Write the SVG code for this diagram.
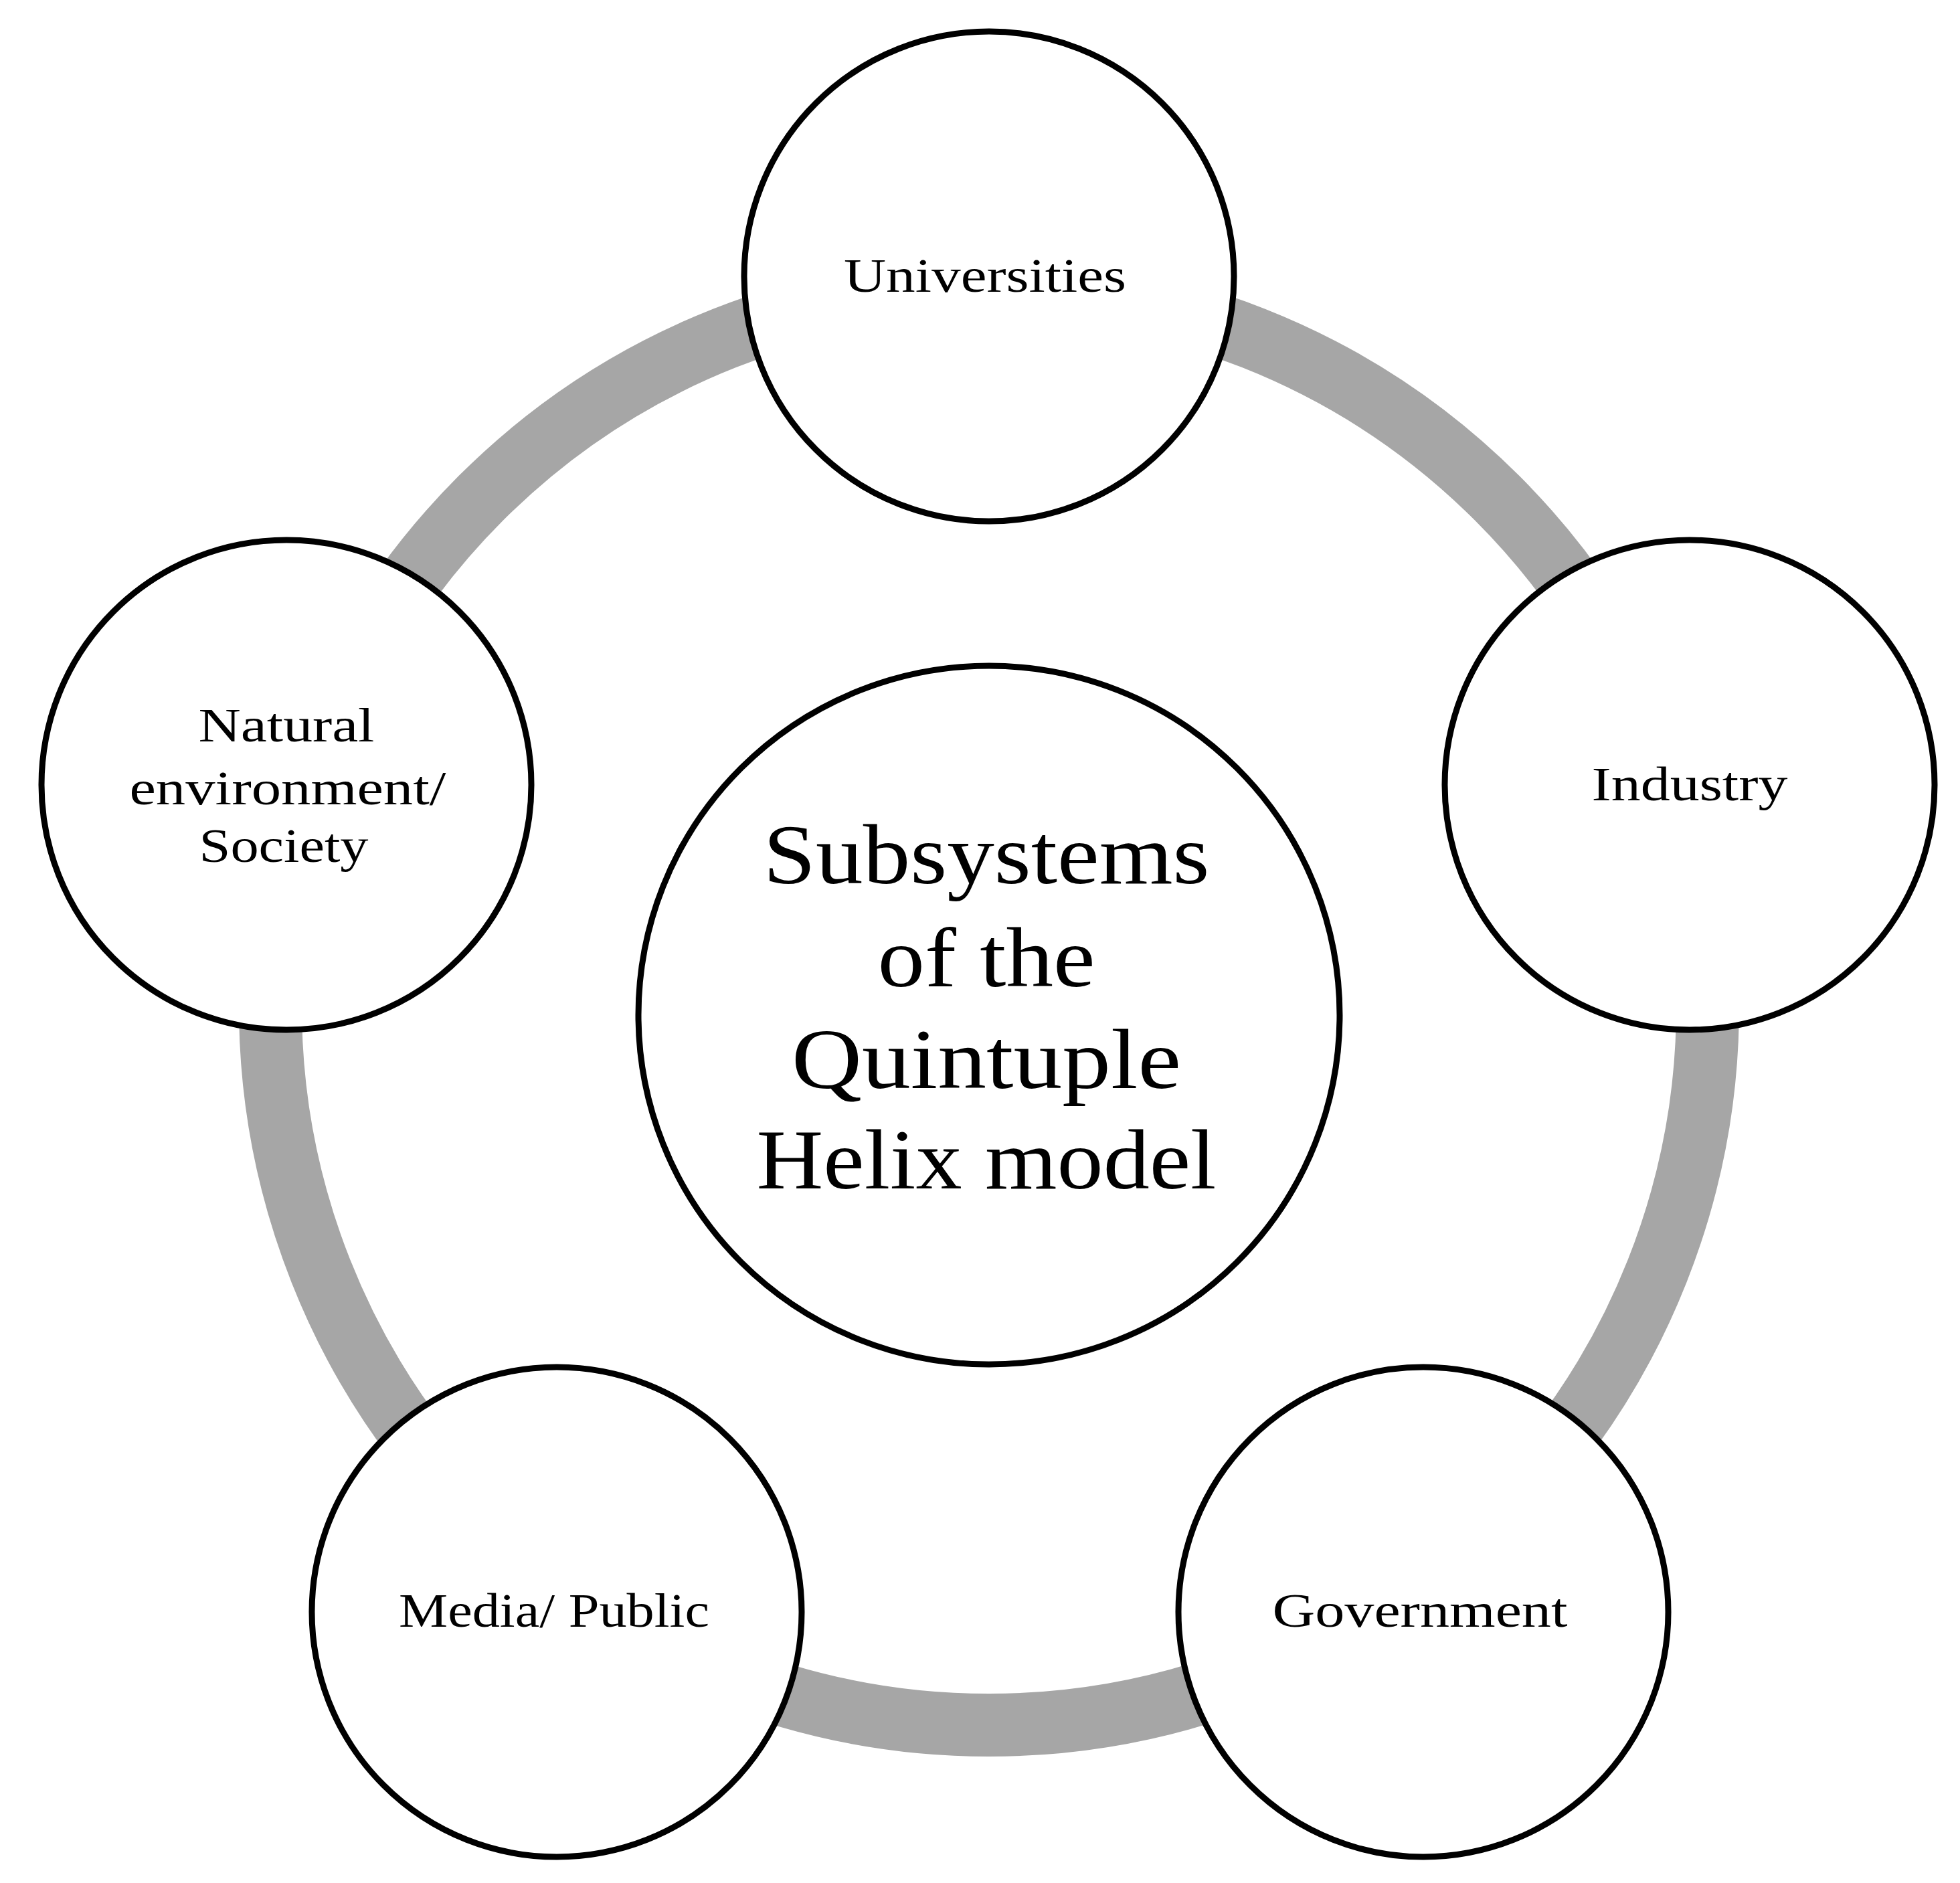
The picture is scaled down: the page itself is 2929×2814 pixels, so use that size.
<svg xmlns="http://www.w3.org/2000/svg" width="2929" height="2814" viewBox="0 0 2929 2814">
<style>
.n{fill:#fff;stroke:#000;stroke-width:9}
.t{font-family:"Liberation Serif",serif;font-size:72px;text-anchor:middle;fill:#000}
.c{font-family:"Liberation Serif",serif;font-size:128px;text-anchor:middle;fill:#000}
</style>
<rect width="2929" height="2814" fill="#fff"/>
<g id="connectors"><circle cx="1478" cy="1504" r="1074" fill="none" stroke="#a6a6a6" stroke-width="94"/></g>
<g id="center"><ellipse class="n" cx="1478" cy="1517" rx="524" ry="522"/>
<text class="c" x="1474" y="1320" textLength="667" lengthAdjust="spacingAndGlyphs">Subsystems</text><text class="c" x="1474" y="1474" textLength="325" lengthAdjust="spacingAndGlyphs">of the</text><text class="c" x="1474" y="1626" textLength="582" lengthAdjust="spacingAndGlyphs">Quintuple</text><text class="c" x="1474" y="1776" textLength="687" lengthAdjust="spacingAndGlyphs">Helix model</text></g>
<g id="universities"><circle class="n" cx="1478" cy="413" r="366"/><text class="t" x="1472" y="436" textLength="422" lengthAdjust="spacingAndGlyphs">Universities</text></g>
<g id="industry"><circle class="n" cx="2525" cy="1173" r="366"/><text class="t" x="2525" y="1196" textLength="293" lengthAdjust="spacingAndGlyphs">Industry</text></g>
<g id="government"><circle class="n" cx="2127" cy="2409" r="366"/><text class="t" x="2122" y="2431" textLength="441" lengthAdjust="spacingAndGlyphs">Government</text></g>
<g id="media"><circle class="n" cx="832" cy="2409" r="366"/><text class="t" x="828" y="2431" textLength="464" lengthAdjust="spacingAndGlyphs">Media/ Public</text></g>
<g id="natural"><circle class="n" cx="428" cy="1173" r="366"/><text class="t" x="428" y="1108" textLength="263" lengthAdjust="spacingAndGlyphs">Natural</text><text class="t" x="430" y="1202" textLength="473" lengthAdjust="spacingAndGlyphs">environment/</text><text class="t" x="424" y="1288" textLength="253" lengthAdjust="spacingAndGlyphs">Society</text></g>
</svg>
